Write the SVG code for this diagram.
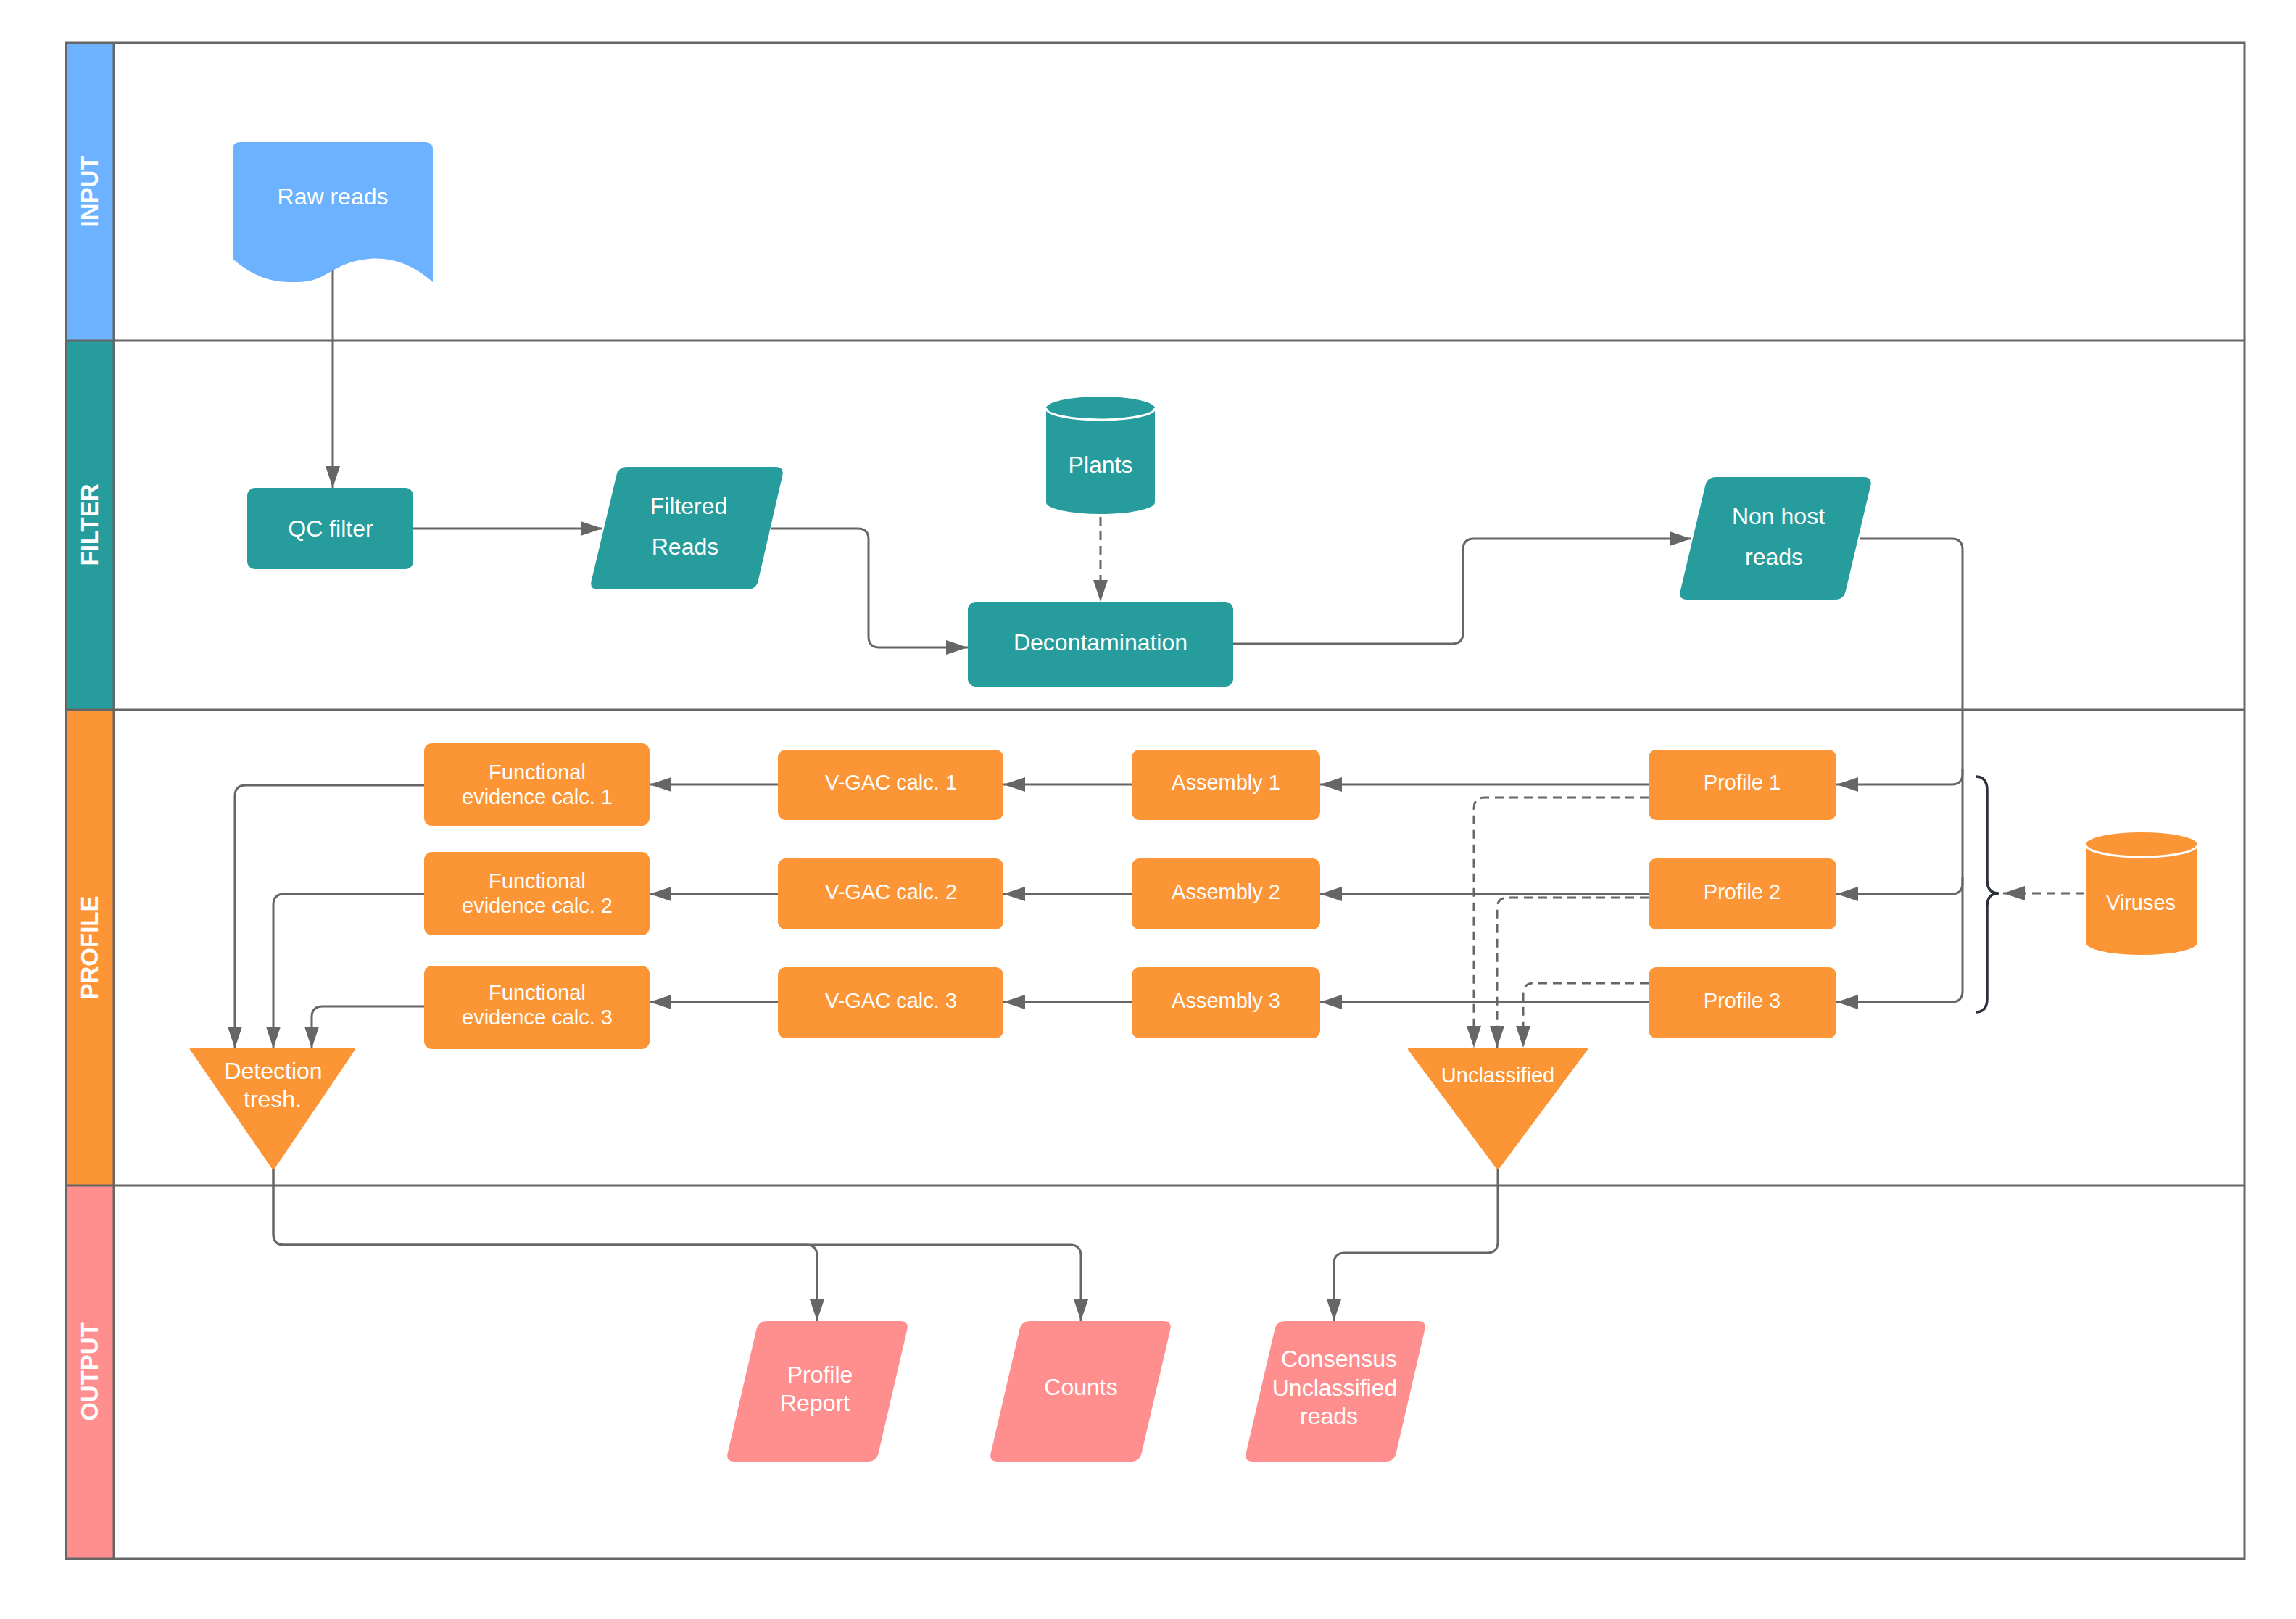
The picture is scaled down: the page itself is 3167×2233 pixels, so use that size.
<svg xmlns="http://www.w3.org/2000/svg" width="3167" height="2233" viewBox="0 0 3167 2233">
<defs>
<marker id="arr" markerUnits="userSpaceOnUse" markerWidth="32" markerHeight="22" refX="30" refY="10" orient="auto" viewBox="0 0 32 22">
<path d="M0,0 L30,10 L0,20 Z" fill="#666666"/>
</marker>
<style>
.lane{stroke:#666666;stroke-width:3;}
.lbl{font-family:"Liberation Sans",Arial,sans-serif;font-weight:bold;font-size:33px;fill:#ffffff;text-anchor:middle;}
.t32{font-family:"Liberation Sans",Arial,sans-serif;font-size:32px;fill:#ffffff;text-anchor:middle;}
.t29{font-family:"Liberation Sans",Arial,sans-serif;font-size:29px;fill:#ffffff;text-anchor:middle;}
.blue{fill:#6DB2FF;}
.teal{fill:#269D9C;}
.orange{fill:#FC9535;}
.pink{fill:#FF8E8E;}
.c{fill:none;stroke:#666666;stroke-width:3;marker-end:url(#arr);}
.d{fill:none;stroke:#666666;stroke-width:3;stroke-dasharray:12 8;marker-end:url(#arr);}
</style>
</defs>
<rect width="3167" height="2233" fill="#ffffff"/>
<g id="lanes">
<rect x="91" y="59" width="66" height="411" class="blue"/>
<rect x="91" y="470" width="66" height="509" class="teal"/>
<rect x="91" y="979" width="66" height="656" class="orange"/>
<rect x="91" y="1635" width="66" height="515" class="pink"/>
<rect x="91" y="59" width="3005" height="2091" fill="none" class="lane"/>
<line x1="157" y1="59" x2="157" y2="2150" class="lane"/>
<line x1="91" y1="470" x2="3096" y2="470" class="lane"/>
<line x1="91" y1="979" x2="3096" y2="979" class="lane"/>
<line x1="91" y1="1635" x2="3096" y2="1635" class="lane"/>
<text class="lbl" transform="translate(135,264) rotate(-90)">INPUT</text>
<text class="lbl" transform="translate(135,724) rotate(-90)">FILTER</text>
<text class="lbl" transform="translate(135,1307) rotate(-90)">PROFILE</text>
<text class="lbl" transform="translate(135,1892) rotate(-90)">OUTPUT</text>
</g>
<g id="connectors">
<path class="c" d="M459,373 L459,673"/>
<path class="c" d="M570,729 L831,729"/>
<path class="c" d="M1063,729 L1183,729 Q1198,729 1198,744 L1198,878 Q1198,893 1213,893 L1335,893"/>
<path class="d" d="M1518,713 L1518,830"/>
<path class="c" d="M1700,888 L2003,888 Q2018,888 2018,873 L2018,758 Q2018,743 2033,743 L2333,743"/>
<path class="c" d="M2565,743 L2692,743 Q2707,743 2707,758 L2707,1067 Q2707,1082 2692,1082 L2533,1082"/>
<path class="c" d="M2707,1060 L2707,1218 Q2707,1233 2692,1233 L2533,1233"/>
<path class="c" d="M2707,1210 L2707,1367 Q2707,1382 2692,1382 L2533,1382"/>
<path class="d" d="M2875,1232 L2763,1232"/>
<path d="M2725,1071 Q2741,1071 2741,1090 L2741,1214 Q2741,1232 2757,1232 Q2741,1232 2741,1250 L2741,1377 Q2741,1396 2725,1396" fill="none" stroke="#2B303B" stroke-width="3.5"/>
<path class="c" d="M2274,1082 L1821,1082"/>
<path class="c" d="M2274,1233 L1821,1233"/>
<path class="c" d="M2274,1382 L1821,1382"/>
<path class="c" d="M1561,1082 L1384,1082"/>
<path class="c" d="M1561,1233 L1384,1233"/>
<path class="c" d="M1561,1382 L1384,1382"/>
<path class="c" d="M1073,1082 L896,1082"/>
<path class="c" d="M1073,1233 L896,1233"/>
<path class="c" d="M1073,1382 L896,1382"/>
<path class="d" d="M2274,1100 L2048,1100 Q2033,1100 2033,1115 L2033,1445"/>
<path class="d" d="M2274,1238 L2080,1238 Q2065,1238 2065,1253 L2065,1445"/>
<path class="d" d="M2274,1356 L2116,1356 Q2101,1356 2101,1371 L2101,1445"/>
<path class="c" d="M585,1083 L339,1083 Q324,1083 324,1098 L324,1446"/>
<path class="c" d="M585,1233 L392,1233 Q377,1233 377,1248 L377,1446"/>
<path class="c" d="M585,1388 L445,1388 Q430,1388 430,1403 L430,1446"/>
<path class="c" d="M377,1613 L377,1702 Q377,1717 392,1717 L1112,1717 Q1127,1717 1127,1732 L1127,1822"/>
<path class="c" d="M377,1613 L377,1702 Q377,1717 392,1717 L1476,1717 Q1491,1717 1491,1732 L1491,1822"/>
<path class="c" d="M2066,1613 L2066,1713 Q2066,1728 2051,1728 L1855,1728 Q1840,1728 1840,1743 L1840,1822"/>
</g>
<g id="raw-reads">
<path class="blue" d="M321,206 Q321,196 331,196 L587,196 Q597,196 597,206 L597,389 C570,365 540,354 509,357 C485,359 470,367 459,373 C440,384 430,389 410,389 C375,390 350,382 321,357 Z"/>
<text class="t32" x="459" y="282">Raw reads</text>
</g>
<g id="qc-filter">
<rect class="teal" x="341" y="673" width="229" height="112" rx="11"/>
<text class="t32" x="456" y="740">QC filter</text>
</g>
<g id="filtered-reads">
<path class="teal" d="M865,644 L1070,644 Q1082,644 1079.3,655.7 L1045.7,801.3 Q1043,813 1031,813 L825,813 Q813,813 815.7,801.3 L850.3,655.7 Q853,644 865,644 Z"/>
<text class="t32" x="950" y="709">Filtered</text>
<text class="t32" x="945" y="765">Reads</text>
</g>
<g id="plants">
<path class="teal" d="M1443,563 L1443,693 A75,16 0 0 0 1593,693 L1593,563 A75,16 0 0 0 1443,563 Z"/>
<path d="M1443,563 A75,16 0 0 0 1593,563" fill="none" stroke="#ffffff" stroke-width="3"/>
<text class="t32" x="1518" y="652">Plants</text>
</g>
<g id="decontamination">
<rect class="teal" x="1335" y="830" width="366" height="117" rx="11"/>
<text class="t32" x="1518" y="897">Decontamination</text>
</g>
<g id="non-host-reads">
<path class="teal" d="M2367,658 L2571,658 Q2583,658 2580.2,669.7 L2545.8,815.3 Q2543,827 2531,827 L2327,827 Q2315,827 2317.8,815.3 L2352.2,669.7 Q2355,658 2367,658 Z"/>
<text class="t32" x="2453" y="723">Non host</text>
<text class="t32" x="2447" y="779">reads</text>
</g>
<g id="profile-1">
<rect class="orange" x="2274" y="1034" width="259" height="97" rx="11"/>
<text class="t29" x="2403" y="1089">Profile 1</text>
</g>
<g id="profile-2">
<rect class="orange" x="2274" y="1184" width="259" height="98" rx="11"/>
<text class="t29" x="2403" y="1240">Profile 2</text>
</g>
<g id="profile-3">
<rect class="orange" x="2274" y="1334" width="259" height="98" rx="11"/>
<text class="t29" x="2403" y="1390">Profile 3</text>
</g>
<g id="assembly-1">
<rect class="orange" x="1561" y="1034" width="260" height="97" rx="11"/>
<text class="t29" x="1691" y="1089">Assembly 1</text>
</g>
<g id="assembly-2">
<rect class="orange" x="1561" y="1184" width="260" height="98" rx="11"/>
<text class="t29" x="1691" y="1240">Assembly 2</text>
</g>
<g id="assembly-3">
<rect class="orange" x="1561" y="1334" width="260" height="98" rx="11"/>
<text class="t29" x="1691" y="1390">Assembly 3</text>
</g>
<g id="vgac-1">
<rect class="orange" x="1073" y="1034" width="311" height="97" rx="11"/>
<text class="t29" x="1229" y="1089">V-GAC calc. 1</text>
</g>
<g id="vgac-2">
<rect class="orange" x="1073" y="1184" width="311" height="98" rx="11"/>
<text class="t29" x="1229" y="1240">V-GAC calc. 2</text>
</g>
<g id="vgac-3">
<rect class="orange" x="1073" y="1334" width="311" height="98" rx="11"/>
<text class="t29" x="1229" y="1390">V-GAC calc. 3</text>
</g>
<g id="functional-1">
<rect class="orange" x="585" y="1025" width="311" height="114" rx="11"/>
<text class="t29" x="741" y="1075">Functional</text>
<text class="t29" x="741" y="1109">evidence calc. 1</text>
</g>
<g id="functional-2">
<rect class="orange" x="585" y="1175" width="311" height="115" rx="11"/>
<text class="t29" x="741" y="1225">Functional</text>
<text class="t29" x="741" y="1259">evidence calc. 2</text>
</g>
<g id="functional-3">
<rect class="orange" x="585" y="1332" width="311" height="115" rx="11"/>
<text class="t29" x="741" y="1379">Functional</text>
<text class="t29" x="741" y="1413">evidence calc. 3</text>
</g>
<g id="viruses">
<path class="orange" d="M2877,1165 L2877,1300 A77,17 0 0 0 3031,1300 L3031,1165 A77,17 0 0 0 2877,1165 Z"/>
<path d="M2877,1165 A77,17 0 0 0 3031,1165" fill="none" stroke="#ffffff" stroke-width="3"/>
<text class="t29" x="2953" y="1255">Viruses</text>
</g>
<g id="detection-tresh">
<polygon class="orange" points="264,1447 488,1447 377,1611" stroke="#FC9535" stroke-width="4" stroke-linejoin="round"/>
<text class="t32" x="377" y="1488">Detection</text>
<text class="t32" x="376" y="1527">tresh.</text>
</g>
<g id="unclassified">
<polygon class="orange" points="1944,1447 2188,1447 2066,1611" stroke="#FC9535" stroke-width="4" stroke-linejoin="round"/>
<text class="t29" x="2066" y="1493">Unclassified</text>
</g>
<g id="profile-report">
<path class="pink" d="M1058,1822 L1242,1822 Q1254,1822 1251.3,1833.7 L1211.7,2004.3 Q1209,2016 1197,2016 L1013,2016 Q1001,2016 1003.7,2004.3 L1043.3,1833.7 Q1046,1822 1058,1822 Z"/>
<text class="t32" x="1131" y="1907">Profile</text>
<text class="t32" x="1124" y="1946">Report</text>
</g>
<g id="counts">
<path class="pink" d="M1421,1822 L1605,1822 Q1617,1822 1614.3,1833.7 L1574.7,2004.3 Q1572,2016 1560,2016 L1376,2016 Q1364,2016 1366.7,2004.3 L1406.3,1833.7 Q1409,1822 1421,1822 Z"/>
<text class="t32" x="1491" y="1924">Counts</text>
</g>
<g id="consensus-unclassified-reads">
<path class="pink" d="M1773,1822 L1956,1822 Q1968,1822 1965.3,1833.7 L1925.7,2004.3 Q1923,2016 1911,2016 L1728,2016 Q1716,2016 1718.7,2004.3 L1758.3,1833.7 Q1761,1822 1773,1822 Z"/>
<text class="t32" x="1847" y="1885">Consensus</text>
<text class="t32" x="1841" y="1925">Unclassified</text>
<text class="t32" x="1833" y="1964">reads</text>
</g>
</svg>
